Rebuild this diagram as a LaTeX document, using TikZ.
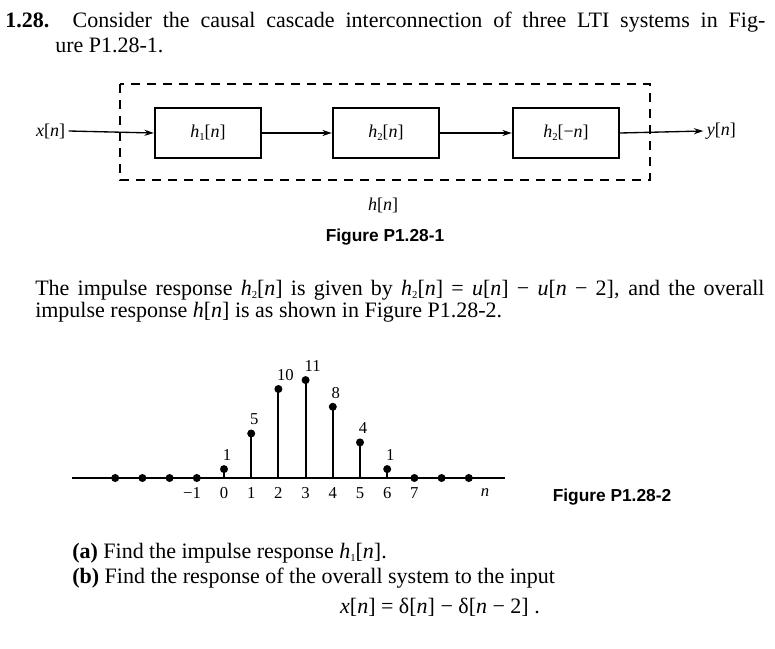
\documentclass[tikz,border=0pt]{standalone}
\usepackage{fontspec}
\setmainfont{Liberation Serif}
\newfontfamily\figfont{Liberation Sans}
\usetikzlibrary{arrows.meta}
\newcommand{\iv}[1]{\textit{#1}}
\newcommand{\sbs}[1]{\raisebox{-0.35ex}{\footnotesize #1}}
\begin{document}
\begin{tikzpicture}[x=0.75pt,y=-0.75pt,
  txt/.style={font=\fontsize{16.5}{19}\selectfont,inner sep=0pt},
  blk/.style={draw,line width=1.3pt,minimum width=80pt,minimum height=37pt,font=\fontsize{13.5}{15}\selectfont},
  arr/.style={line width=1pt,-{Stealth[length=7pt,width=4.5pt]}},
  figcap/.style={font=\figfont\bfseries\fontsize{13}{15}\selectfont,inner sep=0pt},
  dot/.style={circle,fill,inner sep=0pt,minimum size=6pt},
  num/.style={font=\fontsize{12.5}{13}\selectfont,inner sep=1pt}]
\useasboundingbox (0,0) rectangle (775,649);
\node[txt,anchor=west] (t1) at (5,22) {\hbox to 570pt{\textbf{1.28.} Consider the causal cascade interconnection of three LTI systems in Fig-}};
\node[txt,anchor=west] (t2) at (55,45) {ure P1.28-1.};
\draw[line width=0.8pt,dash pattern=on 7pt off 5pt] (120,84) rectangle (650,180);
\node[blk] (b1) at (208,133) {\iv{h}\sbs{1}[\iv{n}]};
\node[blk] (b2) at (386,133) {\iv{h}\sbs{2}[\iv{n}]};
\node[blk] (b3) at (566,133) {\iv{h}\sbs{2}[−\iv{n}]};
\node[blk,draw=none,anchor=east,minimum width=0pt,inner sep=0pt] (x) at (66,131) {\iv{x}[\iv{n}]};
\node[blk,draw=none,anchor=west,minimum width=0pt,inner sep=0pt] (y) at (706,131) {\iv{y}[\iv{n}]};
\draw[arr] (x.east) ++(2pt,0) -- (b1.west);
\draw[arr] (b1) -- (b2);
\draw[arr] (b2) -- (b3);
\draw[arr] (b3.east) -- ([xshift=-2pt]y.west);
\node[blk,draw=none] (h) at (383,205) {\iv{h}[\iv{n}]};
\node[figcap] (f1) at (385,237) {Figure P1.28-1};
\node[txt,anchor=west] (p1) at (35,290) {\hbox to 547pt{The impulse response \iv{h}\sbs{2}[\iv{n}] is given by \iv{h}\sbs{2}[\iv{n}] = \iv{u}[\iv{n}] − \iv{u}[\iv{n} − 2], and the overall}};
\node[txt,anchor=west] (p2) at (35,312) {impulse response \iv{h}[\iv{n}] is as shown in Figure P1.28-2.};
\draw[line width=1pt] (72,478) -- (505,478);
\foreach \n/\v in {-4/0,-3/0,-2/0,-1/0,0/1,1/5,2/10,3/11,4/8,5/4,6/1,7/0,8/0,9/0}{
  \pgfmathsetmacro\xx{224+27.2*\n}
  \pgfmathsetmacro\yy{478-8.9*\v}
  \draw[line width=1.5pt] (\xx,478) -- (\xx,\yy);
  \node[dot] at (\xx,\yy) {};
}
\foreach \n/\v/\dx in {0/1/3,1/5/3,2/10/7,3/11/7,4/8/3,5/4/3,6/1/3}{
  \pgfmathsetmacro\xx{224+27.2*\n+\dx}
  \pgfmathsetmacro\yy{478-8.9*\v-14}
  \node[num] at (\xx,\yy) {\v};
}
\foreach \n in {0,...,7}{
  \pgfmathsetmacro\xx{224+27.2*\n}
  \node[num] at (\xx,493) {\n};
}
\node[num] at (192,493) {−1};
\node[num] at (485,493) {\iv{n}};
\node[figcap] (f2) at (612,497) {Figure P1.28-2};
\node[txt,anchor=west] (a) at (72,553) {\textbf{(a)} Find the impulse response \iv{h}\sbs{1}[\iv{n}].};
\node[txt,anchor=west] (b) at (72,578) {\textbf{(b)} Find the response of the overall system to the input};
\node[txt] (eq) at (440,607) {\iv{x}[\iv{n}] = δ[\iv{n}] − δ[\iv{n} − 2] .};
\end{tikzpicture}
\end{document}
